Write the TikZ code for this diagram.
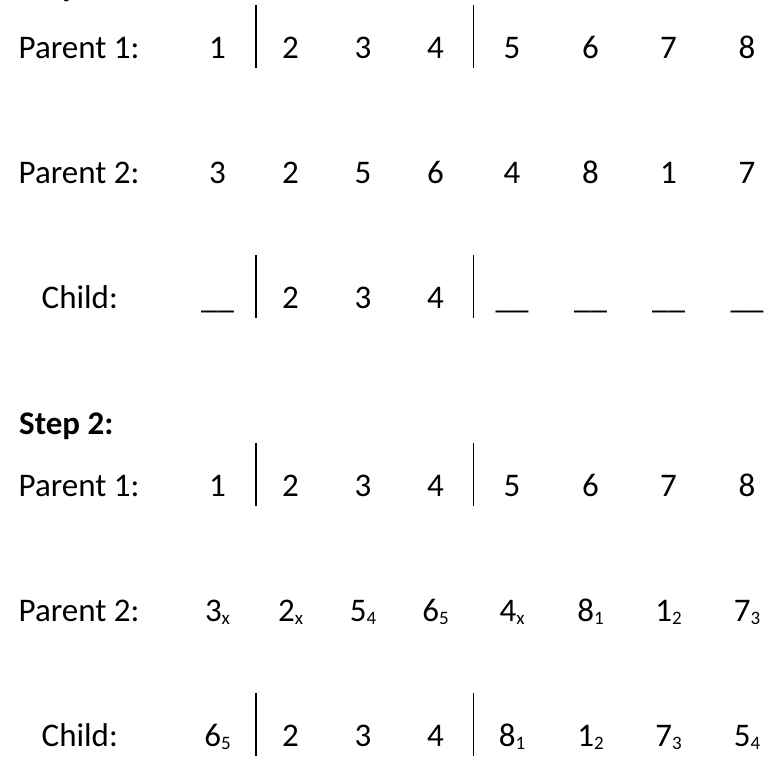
\documentclass[tikz,border=0pt]{standalone}
\usepackage{fontspec}
\setmainfont{Carlito}
\newcommand\subsc[1]{\raisebox{-3pt}{\fontsize{19}{19}\selectfont #1}}
\tikzset{
  lbl/.style={anchor=base west, inner sep=0pt, font=\fontsize{33}{40}\selectfont},
  hdr/.style={anchor=base west, inner sep=0pt, font=\fontsize{33}{40}\selectfont\bfseries},
  cell/.style={anchor=base, inner sep=0pt, font=\fontsize{33}{40}\selectfont},
  sepbar/.style={line width=1.8pt},
}
\newcommand\rowcells[3]{%
  \foreach \t [count=\i] in {#3} {
    \pgfmathsetmacro\xx{{217.5,290.5,363,435.5,512,590.5,668.5,747}[\i-1]}
    \node[cell] (#1\i) at (\xx,#2) {\t};
  }}
\newcommand\sepbars[1]{%
  \draw[sepbar] (256,{#1-53.5}) -- (256,{#1+9.5});
  \draw[sepbar] (473.5,{#1-53.5}) -- (473.5,{#1+9.5});}
\begin{document}
\begin{tikzpicture}[x=1pt,y=-1pt]
\useasboundingbox (0,0) rectangle (777,758);
% Step 1 (heading cut off at top)
\node[hdr] (stepa) at (19,-3.5) {Step 1:};
\node[lbl] (pa1) at (18.5,58.5) {Parent 1:};
\rowcells{pa1c}{58.5}{1,2,3,4,5,6,7,8}
\sepbars{58.5}
\node[lbl] (pa2) at (18.5,183.5) {Parent 2:};
\rowcells{pa2c}{183.5}{3,2,5,6,4,8,1,7}
\node[lbl] (cha) at (41.5,308.5) {Child:};
\rowcells{chac}{308.5}{\_\_,2,3,4,\_\_,\_\_,\_\_,\_\_}
\sepbars{308.5}
% Step 2
\node[hdr] (stepb) at (19,434) {Step 2:};
\node[lbl] (pb1) at (18.5,496) {Parent 1:};
\rowcells{pb1c}{496}{1,2,3,4,5,6,7,8}
\sepbars{496}
\node[lbl] (pb2) at (18.5,621.5) {Parent 2:};
\rowcells{pb2c}{621.5}{3\subsc{x},2\subsc{x},5\subsc{4},6\subsc{5},4\subsc{x},8\subsc{1},1\subsc{2},7\subsc{3}}
\node[lbl] (chb) at (41.5,746) {Child:};
\rowcells{chbc}{746}{6\subsc{5},2,3,4,8\subsc{1},1\subsc{2},7\subsc{3},5\subsc{4}}
\sepbars{746}
\end{tikzpicture}
\end{document}
